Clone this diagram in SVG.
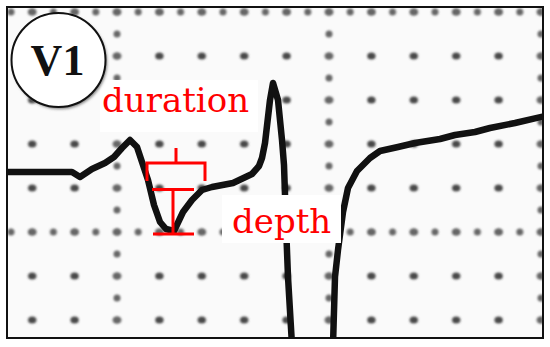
<svg xmlns="http://www.w3.org/2000/svg" width="550" height="347" viewBox="0 0 550 347">
  <defs>
    <style>
      .trace { fill: none; stroke: #111; stroke-width: 6.5; stroke-linejoin: round; stroke-linecap: round; }
      .mark { fill: none; stroke: #ff0000; stroke-width: 3; stroke-linecap: butt; }
      .lbl { font-family: "DejaVu Serif", "Liberation Serif", serif; font-size: 34px; fill: #ff0000; }
      .box { fill: #ffffff; }
    </style>
    <pattern id="minor" patternUnits="userSpaceOnUse" x="11" y="-10" width="42.4" height="44">
      <ellipse cx="21.2" cy="22" rx="4.2" ry="3.6" fill="#4a4a4a"/>
    </pattern>
    <pattern id="hdense" patternUnits="userSpaceOnUse" x="0.4" y="1" width="21.2" height="220">
      <circle cx="10.6" cy="11" r="3.5" fill="#666"/>
    </pattern>
    <pattern id="vdense" patternUnits="userSpaceOnUse" x="11" y="1" width="212" height="22">
      <circle cx="106" cy="11" r="3.5" fill="#666"/>
    </pattern>
    <clipPath id="inner">
      <rect x="7" y="7" width="536" height="331"/>
    </clipPath>
    <filter id="soft" x="-5%" y="-5%" width="110%" height="110%">
      <feGaussianBlur stdDeviation="1"/>
    </filter>
    <filter id="shadow" x="-20%" y="-20%" width="140%" height="140%">
      <feGaussianBlur stdDeviation="1.5"/>
    </filter>
  </defs>

  <rect x="0" y="0" width="550" height="347" fill="#ffffff"/>

  <g id="chart" clip-path="url(#inner)">
    <rect x="7" y="7" width="536" height="331" fill="#fafafa"/>
    <g id="grid" filter="url(#soft)">
      <rect x="7" y="7" width="536" height="331" fill="url(#minor)"/>
      <rect x="7" y="7" width="536" height="331" fill="url(#hdense)"/>
      <rect x="7" y="7" width="536" height="331" fill="url(#vdense)"/>
    </g>

    <g id="connectors">
      <path id="trace-left" class="trace" d="M7,172 L72,172 L80,177 L92,169 L105,163 L114,157 L122,148 L130,140 L137,147 L143,165 L148,180 L154,205 L160,222 L166,229 L174,231 L183,212 L192,200 L202,190 L212,187 L233,183 L252,174 L259,166 L262,158 L265,143 L270,100 L273,83 L278,100 L282,140 L284,165 L286,225 L288,277 L292,345"/>
      <path id="trace-right" class="trace" d="M333,345 L335,277 L338,250 L343,212 L348,188 L357,171 L370,158 L380,151 L398,147 L415,143 L440,139 L455,135 L475,132 L490,128 L515,123 L545,116"/>
    </g>

    <rect id="duration-box" class="box" x="100" y="80" width="158" height="52"/>
    <rect id="depth-box" class="box" x="222" y="195" width="119" height="48"/>

    <g id="duration-marker">
      <path class="mark" d="M176,148 L176,163 M147,181 L147,163 L205,163 L205,181"/>
    </g>
    <g id="depth-marker">
      <path class="mark" d="M152,189.5 L194,189.5 M173,189.5 L173,234 M153,234 L194,234"/>
    </g>

    <g id="duration-label">
      <text class="lbl" x="102" y="112">duration</text>
    </g>
    <g id="depth-label">
      <text class="lbl" x="232" y="233">depth</text>
    </g>

    <g id="lead-badge">
      <circle cx="60" cy="62" r="47" fill="#777" filter="url(#shadow)"/>
      <circle cx="58.5" cy="60" r="47" fill="#ffffff" stroke="#111" stroke-width="2"/>
      <text x="57.5" y="75" text-anchor="middle" font-family="'Liberation Serif', 'Times New Roman', serif" font-weight="bold" font-size="44" fill="#111">V1</text>
    </g>
  </g>

  <rect id="frame" x="7" y="7" width="536" height="331" fill="none" stroke="#111" stroke-width="2"/>
</svg>
